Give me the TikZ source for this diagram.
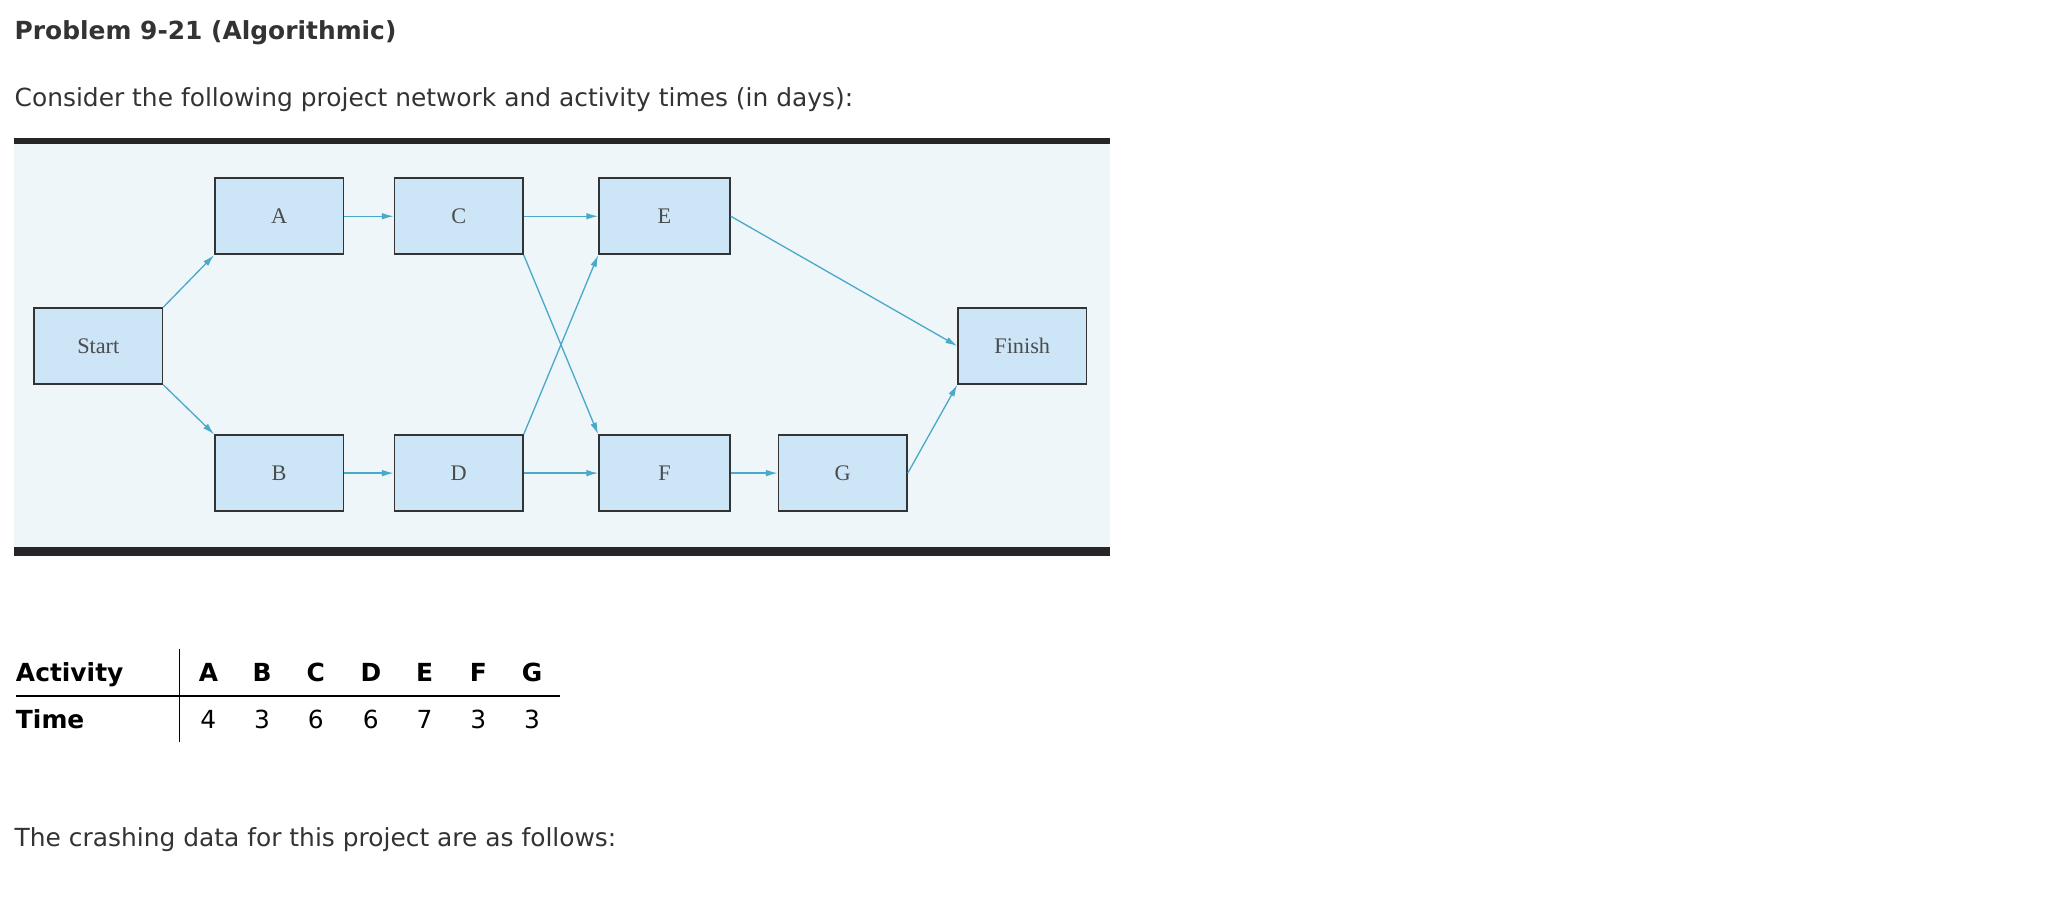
\documentclass[tikz,border=0pt]{standalone}
\usepackage{fontspec}
\setmainfont{DejaVu Sans}
\newfontfamily\timesf{Liberation Serif}
\usetikzlibrary{arrows.meta}
\definecolor{bgblue}{HTML}{EEF6FA}
\definecolor{boxblue}{HTML}{CDE6F7}
\definecolor{arrblue}{HTML}{4AA8C8}
\definecolor{txt}{HTML}{333333}
\begin{document}
\begin{tikzpicture}[x=1pt,y=-1pt,
  box/.style={draw=black!80,line width=1.2pt,fill=boxblue,minimum width=98pt,minimum height=58pt,inner sep=0pt,font=\timesf\fontsize{17}{17}\selectfont,text=black!70},
  arr/.style={draw=arrblue,line width=1pt,-{Latex[length=9pt,width=5pt]}},
  lbl/.style={anchor=base west,inner sep=0pt,text=txt,font=\fontsize{19}{19}\selectfont},
  tb/.style={anchor=base,inner sep=0pt,text=black,font=\fontsize{19}{19}\selectfont}]
\useasboundingbox (0,0) rectangle (1568,685);
\fill[white] (0,0) rectangle (1568,685);
\node[lbl,font=\bfseries\fontsize{19}{19}\selectfont] (title) at (11,30) {Problem 9-21 (Algorithmic)};
\node[lbl] (intro) at (11,81) {Consider the following project network and activity times (in days):};
\fill[bgblue] (11,110) rectangle (847,417);
\fill[black!85] (11,105) rectangle (847,110);
\fill[black!85] (11,417) rectangle (847,424);
\node[box] (A) at (213,165) {A};
\node[box] (C) at (350,165) {C};
\node[box,minimum width=100pt] (E) at (507,165) {E};
\node[box] (S) at (75,264) {Start};
\node[box] (Fi) at (780,264) {Finish};
\node[box] (B) at (213,361) {B};
\node[box] (D) at (350,361) {D};
\node[box,minimum width=100pt] (F) at (507,361) {F};
\node[box] (G) at (643,361) {G};
\draw[arr] (S.north east) -- (A.south west);
\draw[arr] (S.south east) -- (B.north west);
\draw[arr] (A) -- (C);
\draw[arr] (C) -- (E);
\draw[arr] (B) -- (D);
\draw[arr] (D) -- (F);
\draw[arr] (F) -- (G);
\draw[arr] (C.south east) -- (F.north west);
\draw[arr] (D.north east) -- (E.south west);
\draw[arr] (E.east) -- (Fi.west);
\draw[arr] (G.east) -- (Fi.south west);
% table
\node[lbl,text=black,font=\bfseries\fontsize{19}{19}\selectfont] (act) at (12,520) {Activity};
\node[lbl,text=black,font=\bfseries\fontsize{19}{19}\selectfont] (tim) at (12,556) {Time};
\draw[line width=1.2pt] (137,495) -- (137,566);
\draw[line width=1pt] (12,531) -- (427,531);
\foreach \l/\t/\x in {A/4/159,B/3/200,C/6/241,D/6/283,E/7/324,F/3/365,G/3/406}{
  \node[tb,font=\bfseries\fontsize{19}{19}\selectfont] (h\l) at (\x,520) {\l};
  \node[tb] (v\l) at (\x,556) {\t};
}
\node[lbl] (crash) at (11,646) {The crashing data for this project are as follows:};
\end{tikzpicture}
\end{document}
